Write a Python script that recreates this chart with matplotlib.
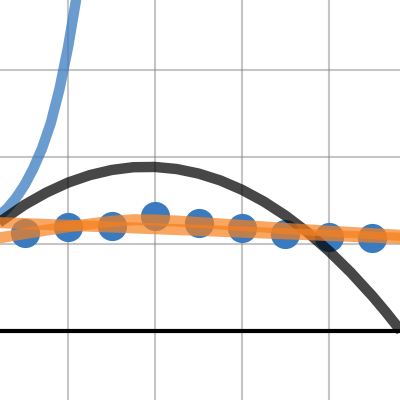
import matplotlib
matplotlib.use("Agg")
import matplotlib.pyplot as plt

# sample points
point_x = [0.5, 1.0, 1.5, 2.0, 2.5, 3.0, 3.5, 4.0, 4.5]
point_y = [1.13, 1.20, 1.21, 1.32, 1.245, 1.18, 1.12, 1.08, 1.068]

# steep curve (leaves the top of the view)
steep_x = [0.1, 0.2, 0.3, 0.4, 0.5, 0.6, 0.7, 0.8, 0.9, 1.0, 1.1, 1.2]
steep_y = [1.25, 1.32, 1.41, 1.53, 1.68, 1.87, 2.10, 2.39, 2.78, 3.27, 3.86, 4.55]

# arched curve
arch_x = [0.1, 0.2, 0.5, 0.75, 1.0, 1.25, 1.5, 1.75, 2.0, 2.25, 2.5, 2.75,
          3.0, 3.25, 3.5, 3.75, 4.0, 4.25, 4.5, 4.65, 4.85, 5.0]
arch_y = [1.16, 1.245, 1.452, 1.593, 1.708, 1.794, 1.853, 1.885, 1.888, 1.864,
          1.812, 1.733, 1.625, 1.49, 1.328, 1.138, 0.92, 0.674, 0.401, 0.223,
          -0.028, -0.22]

# near-flat curves
flat_a_x = [0.1, 1.0, 2.0, 3.0, 4.0, 5.0]
flat_a_y = [1.251, 1.216, 1.177, 1.138, 1.099, 1.060]

flat_b_x = [0.1, 0.5, 1.0, 1.5, 1.75, 2.0, 2.25, 2.5, 3.0, 3.5, 4.0, 4.5, 5.0]
flat_b_y = [1.053, 1.12, 1.20, 1.262, 1.28, 1.277, 1.265, 1.248, 1.215, 1.18,
            1.148, 1.12, 1.09]

fig = plt.figure(figsize=(4, 4), dpi=100)
ax = fig.add_axes([0, 0, 1, 1])

ax.set_xlim(0.217, 4.817)
ax.set_ylim(-0.795, 3.81)
ax.set_xticks([1, 2, 3, 4])
ax.set_yticks([0, 1, 2, 3])
ax.grid(True, color='gray', alpha=0.45, linewidth=1.5)
ax.set_axisbelow(True)
ax.tick_params(length=0, labelbottom=False, labelleft=False)
for s in ax.spines.values():
    s.set_visible(False)

ax.axhline(0, color='black', linewidth=3, zorder=1)

ax.plot(point_x, point_y, 'o', color='#3a7bbf', markersize=21,
        markeredgewidth=0, zorder=2)
ax.plot(steep_x, steep_y, color='#3a7bbf', alpha=0.75, linewidth=7.5,
        solid_capstyle='butt', zorder=3)
ax.plot(arch_x, arch_y, color='black', alpha=0.72, linewidth=7.5,
        solid_capstyle='butt', zorder=4)
ax.plot(flat_a_x, flat_a_y, color='#f7801e', alpha=0.7, linewidth=8,
        solid_capstyle='butt', zorder=5)
ax.plot(flat_b_x, flat_b_y, color='#f7801e', alpha=0.7, linewidth=8,
        solid_capstyle='butt', zorder=5)

fig.savefig('out.png', dpi=100)
plt.close(fig)
